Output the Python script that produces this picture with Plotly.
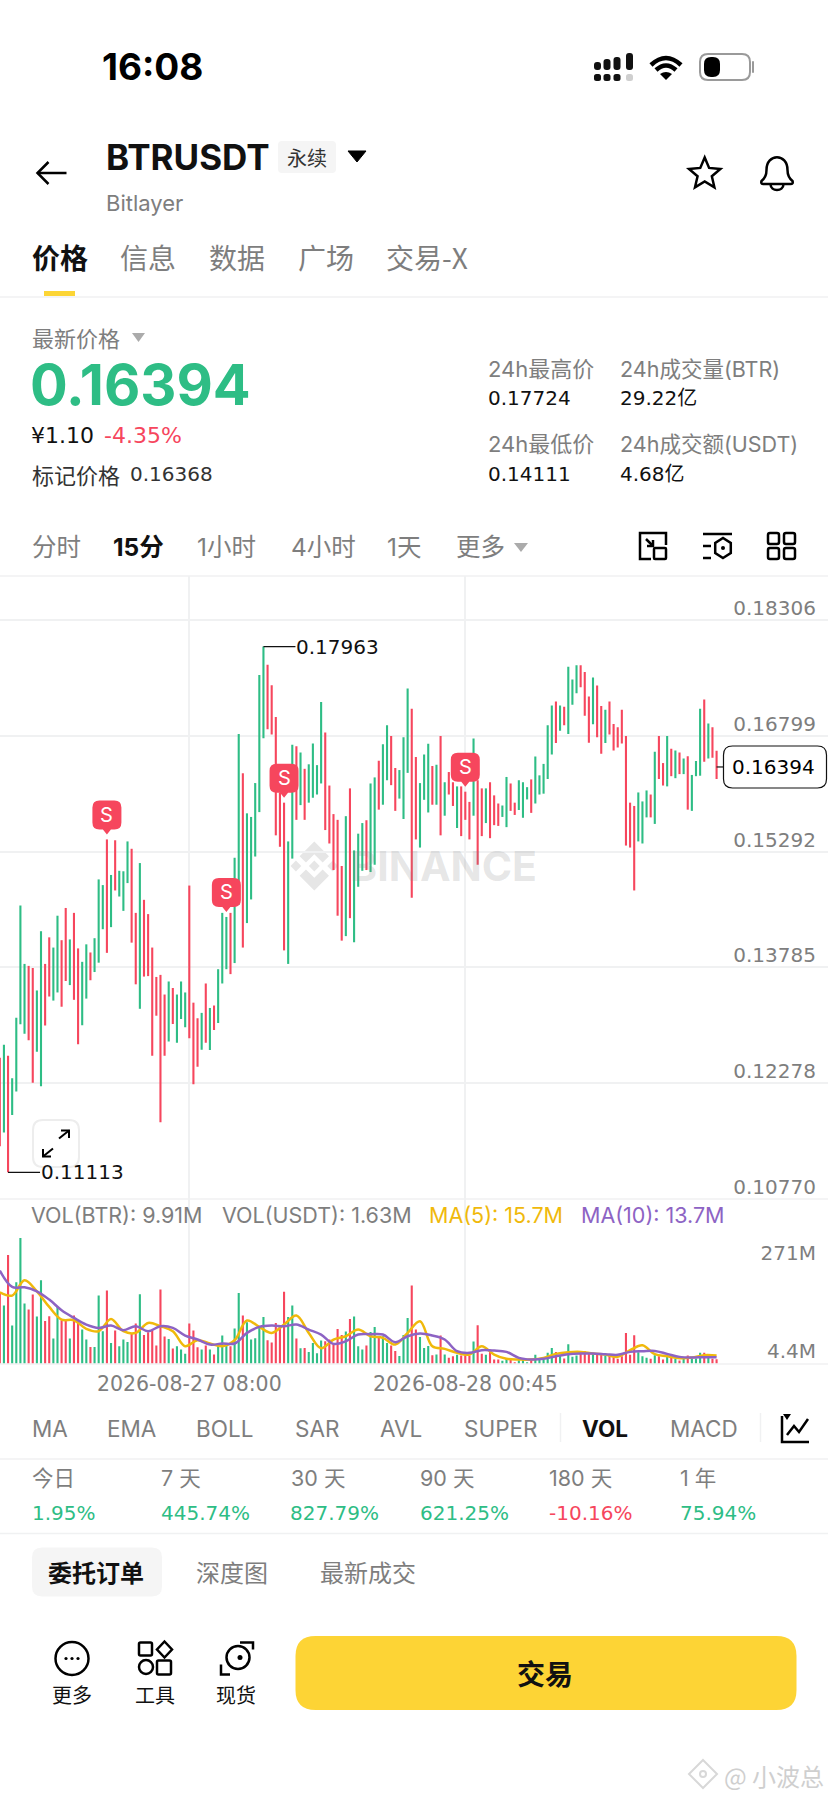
import math
import pandas as pd
import plotly.graph_objects as go

W = 828
H = 1801

highs = [
    0.12605, 0.12775, 0.12632, 0.12339, 0.13126, 0.14589, 0.13828, 0.13802, 0.13775, 0.13482,
    0.14254, 0.13828, 0.14174, 0.14041, 0.14456, 0.14137, 0.14557, 0.14147, 0.14493, 0.14030,
    0.13855, 0.14083, 0.13977, 0.14163, 0.14929, 0.14855, 0.15450, 0.14987, 0.15439, 0.15041,
    0.15035, 0.15424, 0.15328, 0.14493, 0.15142, 0.14663, 0.14477, 0.14041, 0.13658, 0.13685,
    0.13429, 0.13599, 0.13514, 0.13429, 0.13599, 0.13456, 0.14849, 0.13323, 0.13121, 0.13190,
    0.13573, 0.13254, 0.13286, 0.13759, 0.14493, 0.14440, 0.14493, 0.15211, 0.16822, 0.16312,
    0.15790, 0.15743, 0.16184, 0.17593, 0.17963, 0.17726, 0.17460, 0.17046, 0.16062, 0.15929,
    0.15424, 0.16684, 0.16663, 0.16583, 0.16370, 0.16429, 0.16700, 0.16418, 0.17242, 0.16843,
    0.16152, 0.15780, 0.15705, 0.15104, 0.15753, 0.16115, 0.15307, 0.15525, 0.15663, 0.15700,
    0.16179, 0.16258, 0.16476, 0.16689, 0.16939, 0.16796, 0.16381, 0.16354, 0.16780, 0.17418,
    0.17152, 0.16524, 0.16184, 0.16556, 0.16695, 0.16407, 0.16423, 0.16796, 0.16195, 0.16328,
    0.16195, 0.16141, 0.16141, 0.16072, 0.15939, 0.16764, 0.16221, 0.16115, 0.16115, 0.16195,
    0.16024, 0.15918, 0.15892, 0.16264, 0.16179, 0.15929, 0.16221, 0.16195, 0.16131, 0.16232,
    0.16530, 0.16285, 0.16434, 0.16939, 0.17194, 0.17248, 0.17194, 0.17178, 0.17700, 0.17535,
    0.17721, 0.17721, 0.17630, 0.17311, 0.17561, 0.17455, 0.17189, 0.17141, 0.17248, 0.16955,
    0.16913, 0.17141, 0.16796, 0.15929, 0.15886, 0.16062, 0.15945, 0.16088, 0.16035, 0.16593,
    0.16796, 0.16445, 0.16796, 0.16631, 0.16609, 0.16583, 0.16503, 0.16535, 0.16290, 0.16471,
    0.17152, 0.17274, 0.16960, 0.16913, 0.16604,
]
lows = [
    0.11451, 0.11632, 0.11113, 0.11860, 0.12164, 0.13041, 0.12919, 0.12834, 0.12281, 0.12685,
    0.12233, 0.13025, 0.13403, 0.13350, 0.13456, 0.13270, 0.13605, 0.13552, 0.13360, 0.12780,
    0.13030, 0.13376, 0.13615, 0.13722, 0.13844, 0.14280, 0.13972, 0.14307, 0.14785, 0.14706,
    0.14519, 0.14881, 0.14105, 0.13562, 0.13243, 0.13663, 0.13669, 0.12632, 0.13153, 0.11765,
    0.12632, 0.12818, 0.13046, 0.12802, 0.13110, 0.13004, 0.12860, 0.12259, 0.12488, 0.12711,
    0.12802, 0.12706, 0.12967, 0.13057, 0.13573, 0.13759, 0.13695, 0.13839, 0.14599, 0.14041,
    0.14360, 0.14668, 0.15227, 0.15806, 0.16769, 0.16886, 0.16817, 0.15503, 0.15354, 0.14004,
    0.13828, 0.15200, 0.15705, 0.15897, 0.15705, 0.15929, 0.15993, 0.16035, 0.16179, 0.15572,
    0.15397, 0.15051, 0.14456, 0.14131, 0.14190, 0.14424, 0.14110, 0.14833, 0.15041, 0.15051,
    0.15025, 0.15120, 0.15838, 0.15902, 0.16221, 0.16157, 0.15822, 0.15982, 0.15716, 0.16317,
    0.14690, 0.15450, 0.15344, 0.15966, 0.15801, 0.15902, 0.15902, 0.15503, 0.15759, 0.16035,
    0.15886, 0.15599, 0.15493, 0.15705, 0.15450, 0.15759, 0.15120, 0.15493, 0.15663, 0.15466,
    0.15636, 0.15626, 0.15743, 0.15610, 0.15822, 0.15769, 0.15833, 0.15732, 0.15971, 0.15796,
    0.15918, 0.16035, 0.16046, 0.16237, 0.16556, 0.16705, 0.16865, 0.16939, 0.16822, 0.17205,
    0.17354, 0.17434, 0.17061, 0.16710, 0.16950, 0.16780, 0.16567, 0.16705, 0.16817, 0.16609,
    0.16647, 0.16700, 0.15370, 0.15344, 0.14785, 0.15424, 0.15397, 0.15737, 0.15737, 0.15652,
    0.16237, 0.16152, 0.16141, 0.16274, 0.16248, 0.16301, 0.16301, 0.15838, 0.15822, 0.16274,
    0.16280, 0.16461, 0.16503, 0.16514, 0.16237,
]
# G = up bar, R = down bar
sides = (
    "RGRGGGGRRG" "GRRGGRRGRR" "GGRGGGRGRG" "GGRRGRRRRR" "RGRGGGRRRG"
    "RGRGGGRGGR" "GGGGGRRRRR" "GGRGRGGGGR" "RRRRGRGGGR" "GGRGGRRGGG"
    "RRGGGRGRGR" "RGRRRGRRGR" "RRGGRRGGGR" "GGGGGRGRGG" "GRRRGRRGRR"
    "RRRRRGGGRG" "RRGRGRGRGG" "GRGRR"
)
# volume in millions
volumes = [
    195.7, 161.3, 299.1, 106.9, 224.7, 345.3, 166.7, 150.4, 191.2, 131.3,
    230.2, 119.6, 132.2, 71.5, 157.6, 121.4, 121.4, 71.5, 134.1, 118.6,
    96.0, 68.8, 48.8, 48.8, 188.5, 91.4, 202.1, 59.7, 93.3, 50.6,
    68.8, 62.4, 84.2, 112.3, 192.1, 81.5, 88.7, 93.3, 52.5, 204.8,
    76.9, 70.6, 44.3, 50.6, 41.6, 29.8, 112.3, 93.3, 47.9, 41.6,
    52.5, 41.6, 28.0, 53.4, 79.7, 59.7, 50.6, 98.7, 195.7, 134.1,
    115.9, 68.8, 72.4, 105.0, 130.4, 67.0, 60.6, 114.1, 105.0, 199.3,
    130.4, 161.3, 71.5, 45.2, 46.1, 35.2, 59.7, 31.6, 66.1, 64.2,
    68.8, 57.9, 97.8, 81.5, 90.5, 125.0, 131.3, 50.6, 41.6, 52.5,
    89.6, 103.2, 73.3, 77.8, 59.7, 52.5, 37.9, 24.3, 81.5, 127.7,
    215.7, 96.0, 76.0, 46.1, 51.5, 26.2, 28.0, 79.7, 28.0, 18.9,
    23.4, 27.1, 25.3, 26.2, 25.3, 63.3, 107.8, 29.8, 27.1, 41.6,
    14.4, 14.4, 10.7, 16.2, 14.4, 7.1, 12.6, 14.4, 7.1, 12.6,
    27.1, 16.2, 14.4, 32.5, 46.1, 35.2, 25.3, 17.1, 56.1, 21.6,
    25.3, 30.7, 37.9, 32.5, 30.7, 28.9, 30.7, 25.3, 27.1, 20.7,
    16.2, 23.4, 86.9, 27.1, 80.6, 34.3, 23.4, 18.9, 16.2, 26.2,
    23.4, 14.4, 21.6, 18.9, 16.2, 11.7, 18.9, 25.3, 17.1, 17.1,
    32.5, 32.5, 20.7, 16.2, 15.3,
]
# moving averages, read at every third bar
ma5 = [
    197.5, 188.5, 230.2, 200.2, 157.6, 123.2, 121.4, 97.8, 91.4, 125.0,
    91.4, 86.9, 114.1, 105.0, 91.4, 50.6, 67.0, 57.9, 50.6, 67.0,
    120.5, 103.2, 86.9, 109.6, 134.1, 86.9, 45.2, 68.8, 77.8, 96.0,
    77.8, 73.3, 55.2, 86.9, 118.6, 50.6, 43.4, 32.5, 28.0, 50.6,
    28.0, 16.2, 14.4, 14.4, 18.9, 29.8, 34.3, 35.2, 30.7, 28.0,
    21.6, 39.8, 53.4, 28.9, 23.4, 18.0, 19.8, 26.2, 25.3,
]
ma10 = [
    256.5, 212.0, 211.1, 200.2, 177.6, 148.6, 127.7, 109.6, 100.5, 106.9,
    94.2, 105.0, 91.4, 105.0, 100.5, 79.7, 68.8, 55.2, 57.9, 57.9,
    86.9, 103.2, 106.9, 105.0, 109.6, 96.0, 82.4, 57.0, 64.2, 82.4,
    83.3, 82.4, 61.5, 77.8, 85.1, 79.7, 68.8, 37.0, 32.5, 39.8,
    38.9, 35.2, 18.9, 14.4, 16.2, 23.4, 28.9, 30.7, 30.7, 28.9,
    27.1, 35.2, 37.0, 37.9, 29.8, 21.6, 19.8, 20.7, 20.7,
]

price_ticks = [0.18306, 0.16799, 0.15292, 0.13785, 0.12278, 0.10770]
vol_ticks = [4.4, 271]
vol_tick_text = ["4.4M", "271M"]
time_ticks = ["2026-08-27 08:00", "2026-08-28 00:45"]
sell_bars = [26, 55, 69, 113]
last_price = 0.16394

GREEN = "#2EBD85"
RED = "#F6465D"
YELLOW = "#F0B90B"
PURPLE = "#8D63C4"
GRAY = "#7E7E7E"
LINE = "#F0F1F2"
FONT = "Inter, 'Noto Sans CJK SC', sans-serif"
NUM = "'DejaVu Sans', 'Noto Sans CJK SC', sans-serif"
CJK = "'Noto Sans CJK SC', Inter, sans-serif"

times = pd.date_range("2026-08-26 20:30", periods=len(highs), freq="15min")
bar_px = 276 / 67
bar_ms = 15 * 60 * 1000
left = times[46] - pd.Timedelta(minutes=15 * 189.3 / bar_px)
right = left + pd.Timedelta(minutes=15 * W / bar_px)
colors = [GREEN if s == "G" else RED for s in sides]


def px(x):
    return x / W


def py(y):
    return 1 - y / H


def pt(x, y):
    return f"{px(x):.5f},{py(y):.5f}"


shapes = []
texts = []


def draw(path, fill=None, line=None, width=2.0, layer="above"):
    shapes.append(dict(type="path", xref="paper", yref="paper", path=path, fillcolor=fill,
                       line=dict(color=line, width=width if line else 0), layer=layer))


def rrect(x0, y0, x1, y1, r):
    return (f"M{pt(x0 + r, y0)} L{pt(x1 - r, y0)} Q{pt(x1, y0)} {pt(x1, y0 + r)} "
            f"L{pt(x1, y1 - r)} Q{pt(x1, y1)} {pt(x1 - r, y1)} L{pt(x0 + r, y1)} "
            f"Q{pt(x0, y1)} {pt(x0, y1 - r)} L{pt(x0, y0 + r)} Q{pt(x0, y0)} {pt(x0 + r, y0)} Z")


def poly(points, close=False):
    s = "M" + " L".join(pt(x, y) for x, y in points)
    return s + " Z" if close else s


def hline(x0, x1, y, color=LINE, width=1.5):
    shapes.append(dict(type="line", xref="paper", yref="paper", x0=px(x0), x1=px(x1), y0=py(y), y1=py(y),
                       line=dict(color=color, width=width)))


def vline(x, y0, y1, color=LINE, width=1.5):
    shapes.append(dict(type="line", xref="paper", yref="paper", x0=px(x), x1=px(x), y0=py(y0), y1=py(y1),
                       line=dict(color=color, width=width)))


def circle(cx, cy, r, fill=None, line=None, width=2.5):
    shapes.append(dict(type="circle", xref="paper", yref="paper", x0=px(cx - r), x1=px(cx + r),
                       y0=py(cy + r), y1=py(cy - r), fillcolor=fill,
                       line=dict(color=line, width=width if line else 0)))


def label(text, x, y, size=20, color=GRAY, anchor="left", bold=False, family=FONT):
    texts.append(dict(text=f"<b>{text}</b>" if bold else text, x=px(x), y=py(y), xref="paper", yref="paper",
                      xanchor=anchor, yanchor="middle", showarrow=False, borderpad=0, borderwidth=0,
                      font=dict(family=family, size=size, color=color)))


# status bar
label("16:08", 102, 67, 37, "#000000", bold=True)
for cx, tops in [(597.5, 62), (607, 59), (617, 57), (629.5, 53)]:
    draw(rrect(cx - 3.5, tops, cx + 3.5, 70, 3), fill="#111111")
for cx, c in [(597.5, "#111111"), (607, "#111111"), (617, "#111111"), (629.5, "#CFCFCF")]:
    draw(rrect(cx - 3.5, 74, cx + 3.5, 81, 2.5), fill=c)
draw(f"M{pt(651, 65)} Q{pt(666, 51)} {pt(681, 65)}", line="#000000", width=4.5)
draw(f"M{pt(656, 70)} Q{pt(666, 61)} {pt(676, 70)}", line="#000000", width=4.5)
draw(f"M{pt(660, 74)} Q{pt(666, 70)} {pt(672, 74)} L{pt(666, 80)} Z", fill="#000000")
draw(rrect(700, 54, 750, 80, 8), line="#9A9A9A", width=2)
draw(rrect(704, 57, 720, 77, 7), fill="#000000")
draw(rrect(752, 61, 754, 73, 1), fill="#9A9A9A")

# header
draw(poly([(66.5, 173), (37.5, 173)]), line="#000000", width=2.5)
draw(poly([(48.5, 162), (37.5, 173), (48.5, 184)]), line="#000000", width=2.5)
label("BTRUSDT", 105.5, 157, 35, "#111111", bold=True)
draw(rrect(278, 141, 336, 173, 4), fill="#F5F5F5")
label("永续", 307, 157, 20, "#333333", "center", family=CJK)
draw(poly([(348, 151), (366, 151), (357, 162)], True), fill="#000000", line="#000000", width=1)
label("Bitlayer", 105.5, 203, 22, GRAY)
star = []
for k in range(10):
    r = 16.5 if k % 2 == 0 else 7.5
    a = -math.pi / 2 + k * math.pi / 5
    star.append((704.7 + r * math.cos(a), 174 + r * math.sin(a)))
draw(poly(star, True), line="#000000", width=2.5)
draw(f"M{pt(761.5, 181)} Q{pt(766.5, 177)} {pt(766.5, 170)} C{pt(766.5, 153)} {pt(787.5, 153)} {pt(787.5, 170)} "
     f"Q{pt(787.5, 177)} {pt(792.5, 181)} Q{pt(793.5, 184)} {pt(790.5, 184)} L{pt(763.5, 184)} "
     f"Q{pt(760.5, 184)} {pt(761.5, 181)} Z",
     line="#000000", width=2.5)
draw(f"M{pt(770.5, 184)} C{pt(770.5, 192)} {pt(783.5, 192)} {pt(783.5, 184)}", line="#000000", width=2.5)

# tabs
label("价格", 32, 257, 28, "#111111", bold=True, family=CJK)
for text, x in [("信息", 120), ("数据", 209), ("广场", 297.5), ("交易-X", 385.5)]:
    label(text, x, 257, 28, GRAY, family=CJK)
shapes.append(dict(type="rect", xref="paper", yref="paper", x0=px(44), x1=px(75), y0=py(296), y1=py(291),
                   fillcolor="#FCD535", line=dict(width=0)))
hline(0, W, 297)

# price block
label("最新价格", 32, 337, 22, GRAY, family=CJK)
draw(poly([(132, 333), (145, 333), (138.5, 342)], True), fill="#ABABAB")
label("0.16394", 30, 385, 56, GREEN, bold=True)
label("¥1.10", 31, 435, 22, "#111111", family=NUM)
label("-4.35%", 104, 435, 22, RED, family=NUM)
label("标记价格", 32, 474, 22, "#333333", family=CJK)
label("0.16368", 130, 474, 20, "#333333", family=NUM)
label("24h最高价", 488, 369, 22, GRAY)
label("0.17724", 488, 398, 20, "#111111", family=NUM)
label("24h成交量(BTR)", 620, 369, 21.5, GRAY)
label("29.22亿", 620, 398, 20, "#111111", family=NUM)
label("24h最低价", 488, 444, 22, GRAY)
label("0.14111", 488, 474, 20, "#111111", family=NUM)
label("24h成交额(USDT)", 620, 444, 21.5, GRAY)
label("4.68亿", 620, 474, 20, "#111111", family=NUM)

# interval row
for text, x, on in [("分时", 32, False), ("15分", 113, True), ("1小时", 197, False), ("4小时", 291, False),
                    ("1天", 387, False), ("更多", 456, False)]:
    label(text, x, 547, 24.5, "#111111" if on else GRAY, bold=on)
draw(poly([(514, 543), (528, 543), (521, 552)], True), fill="#ABABAB")
draw(poly([(651, 559), (640, 559), (640, 533), (666, 533), (666, 545)]), line="#000000", width=2.5)
draw(rrect(654, 548, 666, 559, 1), line="#000000", width=2.5)
draw(poly([(646, 539), (653, 546)]), line="#000000", width=2.5)
draw(poly([(653, 540), (653, 546), (647, 546)]), line="#000000", width=2.5)
draw(poly([(703, 534), (732, 534)]), line="#000000", width=2.5)
draw(poly([(703, 546), (711, 546)]), line="#000000", width=2.5)
draw(poly([(703, 558), (711, 558)]), line="#000000", width=2.5)
hexagon = [(723 + 9 * math.sin(k * math.pi / 3), 548 + 10 * math.cos(k * math.pi / 3)) for k in range(6)]
draw(poly(hexagon, True), line="#000000", width=2.5)
circle(723, 548, 2, fill="#000000")
for x0, y0 in [(768, 533), (784, 533), (768, 548), (784, 548)]:
    draw(rrect(x0, y0, x0 + 11, y0 + 11, 2), line="#000000", width=2.5)

# chart frame and watermark
hline(0, W, 576)
hline(0, W, 1199)
hline(0, W, 1364)


def logo(cx, cy, s, color):
    def at(pts):
        return poly([(cx + s * a, cy + s * b) for a, b in pts], True)
    diamond = [(0, -0.22), (0.22, 0), (0, 0.22), (-0.22, 0)]
    top = [(0, -1), (0.6, -0.4), (0.34, -0.14), (0, -0.48), (-0.34, -0.14), (-0.6, -0.4)]
    for pts in [diamond, top, [(a, -b) for a, b in top],
                [(a + 0.75, b) for a, b in diamond], [(a - 0.75, b) for a, b in diamond]]:
        draw(at(pts), fill=color, layer="below")


logo(314.3, 866, 24.5, "#E6E6E6")
label("BINANCE", 443, 866, 41, "rgba(130,130,130,0.2)", "center", bold=True)

# expand button
draw(rrect(33, 1120, 79, 1167, 10), fill="#FFFFFF", line="#EDEDED", width=2)
draw(poly([(43, 1156.5), (53, 1148.5)]), line="#000000", width=2)
draw(poly([(43, 1149), (43, 1156.5), (51, 1156.5)]), line="#000000", width=2)
draw(poly([(59, 1138.5), (69, 1130.5)]), line="#000000", width=2)
draw(poly([(61, 1130.5), (69, 1130.5), (69, 1138)]), line="#000000", width=2)

# indicator legend
label("VOL(BTR): 9.91M", 31, 1215, 21.5, GRAY)
label("VOL(USDT): 1.63M", 221.5, 1215, 21.5, GRAY)
label("MA(5): 15.7M", 429, 1215, 21.5, YELLOW)
label("MA(10): 13.7M", 581, 1215, 21.5, PURPLE)

# indicator row
for text, x in [("MA", 31.5), ("EMA", 106.5), ("BOLL", 196), ("SAR", 295), ("AVL", 380), ("SUPER", 463.5), ("MACD", 669.5)]:
    label(text, x, 1428, 22.5, GRAY)
label("VOL", 582, 1428, 22.5, "#111111", bold=True)
vline(560.5, 1413, 1442)
vline(760.5, 1413, 1442)
draw(poly([(782, 1416), (782, 1442), (809, 1442)]), line="#000000", width=2.5)
draw(poly([(787, 1435), (794, 1426), (799, 1432), (808, 1419)]), line="#000000", width=2.5)
draw(poly([(783, 1414), (791, 1414), (787, 1420)], True), fill="#000000")
hline(0, W, 1459)

# performance row
perf = [("今日", "1.95%", 32), ("7 天", "445.74%", 161), ("30 天", "827.79%", 290.5),
        ("90 天", "621.25%", 420), ("180 天", "-10.16%", 549), ("1 年", "75.94%", 680)]
for name, value, x in perf:
    label(name, x, 1478, 21.5, GRAY)
    label(value, x - 0.5, 1512.5, 20, RED if value.startswith("-") else GREEN, family=NUM)
hline(0, W, 1533.5)

# order tabs
draw(rrect(32, 1547.5, 162, 1596.5, 10), fill="#F5F5F5")
label("委托订单", 48, 1571.5, 24, "#111111", bold=True, family=CJK)
label("深度图", 196, 1571.5, 24, GRAY, family=CJK)
label("最新成交", 320, 1571.5, 24, GRAY, family=CJK)

# bottom bar
circle(72, 1658.5, 16.5, line="#000000", width=2.5)
for dx in [-6, 0, 6]:
    circle(72 + dx, 1658.5, 1.6, fill="#000000")
draw(rrect(139, 1642.5, 152, 1655.5, 1.5), line="#000000", width=2.5)
draw(poly([(164.5, 1641.5), (172, 1649.5), (164.5, 1657.5), (157, 1649.5)], True), line="#000000", width=2.5)
circle(146, 1667, 7, line="#000000", width=2.5)
draw(rrect(157, 1660.5, 171, 1674.5, 1.5), line="#000000", width=2.5)
circle(238, 1657.5, 11.5, line="#000000", width=2.5)
circle(240, 1657.5, 2.5, fill="#000000")
draw(poly([(240, 1642.5), (253, 1642.5), (253, 1649.5)]), line="#000000", width=2.5)
draw(poly([(221, 1664.5), (221, 1674.5), (230, 1674.5)]), line="#000000", width=2.5)
label("更多", 72, 1694, 20, "#111111", "center", family=CJK)
label("工具", 155, 1694, 20, "#111111", "center", family=CJK)
label("现货", 236, 1694, 20, "#111111", "center", family=CJK)
draw(rrect(295.5, 1636, 796.5, 1710, 20), fill="#FDD435")
label("交易", 545, 1672.5, 28, "#111111", "center", bold=True, family=CJK)

# image watermark, bottom right
draw(poly([(703, 1760), (717, 1774), (703, 1788), (689, 1774)], True), line="#D8D8D8", width=2)
circle(703, 1774, 3, line="#D8D8D8", width=2)
label("@ 小波总", 724, 1775, 24, "#CFCFCF", family=CJK)

# sell markers, tied to the bar they sit on
for i in sell_bars:
    body = ("M-7.5,39 L7.5,39 Q14.5,39 14.5,32 L14.5,17 Q14.5,10 7.5,10 L4,10 L0,5 L-4,10 L-7.5,10 "
            "Q-14.5,10 -14.5,17 L-14.5,32 Q-14.5,39 -7.5,39 Z")
    shapes.append(dict(type="path", xref="x", yref="y", xsizemode="pixel", ysizemode="pixel",
                       xanchor=times[i], yanchor=highs[i], path=body, fillcolor=RED, line=dict(width=0)))
    texts.append(dict(text="S", x=times[i], y=highs[i], xref="x", yref="y", yshift=24.5, showarrow=False,
                      xanchor="center", yanchor="middle", font=dict(family=FONT, size=20, color="#FFFFFF")))

# last price box
box_y = 767
draw(rrect(723.5, box_y - 21, 826.5, box_y + 21, 9), fill="#FFFFFF", line="#111111", width=1.2)
shapes.append(dict(type="line", xref="x", yref="y", x0=times[-1], x1=times[-1] + pd.Timedelta(minutes=25),
                   y0=last_price, y1=last_price, line=dict(color="#111111", width=1.2)))
texts.append(dict(text=f"{last_price:.5f}", x=px(817), y=last_price, xref="paper", yref="y", xanchor="right",
                  yanchor="middle", showarrow=False, font=dict(family=NUM, size=20, color="#000000")))

# high and low marks
hi = highs.index(max(highs))
lo = lows.index(min(lows))
for i, value in [(hi, highs[hi]), (lo, lows[lo])]:
    texts.append(dict(text=f"{value:.5f}", x=times[i], y=value, xref="x", yref="y", ax=32, ay=0, axref="pixel",
                      ayref="pixel", xanchor="left", yanchor="middle", showarrow=True, arrowhead=0,
                      arrowwidth=1.2, arrowcolor="#111111", standoff=0, borderpad=0,
                      font=dict(family=NUM, size=20, color="#111111")))

fig = go.Figure()
fig.add_trace(go.Bar(x=times, y=[h - l for h, l in zip(highs, lows)], base=lows, yaxis="y",
                     marker=dict(color=colors, line=dict(width=0)), width=2.1 / bar_px * bar_ms))
fig.add_trace(go.Bar(x=times, y=volumes, yaxis="y2",
                     marker=dict(color=colors, line=dict(width=0)), width=2.1 / bar_px * bar_ms))
fig.add_trace(go.Scatter(x=times[::3], y=ma5, yaxis="y2", mode="lines",
                         line=dict(color=YELLOW, width=2.5, shape="spline")))
fig.add_trace(go.Scatter(x=times[::3], y=ma10, yaxis="y2", mode="lines",
                         line=dict(color=PURPLE, width=2.5, shape="spline")))

fig.update_layout(
    width=W,
    height=H,
    margin=dict(l=0, r=0, t=0, b=0),
    paper_bgcolor="#FFFFFF",
    plot_bgcolor="#FFFFFF",
    showlegend=False,
    barmode="overlay",
    font=dict(family=FONT, color=GRAY),
    shapes=shapes,
    annotations=texts,
    xaxis=dict(
        type="date", domain=[0, 1], range=[left, right], anchor="y2",
        tickmode="array", tickvals=time_ticks, ticktext=time_ticks,
        showgrid=True, gridcolor=LINE, gridwidth=1.5, zeroline=False, showline=False,
        ticklen=0, ticklabelstandoff=6, tickfont=dict(family=NUM, size=20.5, color=GRAY),
    ),
    yaxis=dict(
        domain=[py(1198.6), py(576.1)], range=[0.1077, 0.18881], side="right", anchor="x",
        tickmode="array", tickvals=price_ticks, ticktext=[f"{t:.5f}" for t in price_ticks],
        showgrid=True, gridcolor=LINE, gridwidth=1.5, zeroline=False, showline=False,
        ticklabelposition="inside", ticklabelstandoff=9, ticklabelshift=-12, ticklen=0,
        tickfont=dict(family=NUM, size=20, color=GRAY),
    ),
    yaxis2=dict(
        domain=[py(1363.7), py(1199)], range=[3.0, 451.6], side="right", anchor="x",
        tickmode="array", tickvals=vol_ticks, ticktext=vol_tick_text,
        showgrid=False, zeroline=False, showline=False,
        ticklabelposition="inside", ticklabelstandoff=9, ticklabelshift=-12, ticklen=0,
        tickfont=dict(family=NUM, size=20, color=GRAY),
    ),
)

fig.write_html("out.html", config={"displayModeBar": False},
               post_script="document.body.style.margin='0';document.documentElement.style.overflow='hidden';")
